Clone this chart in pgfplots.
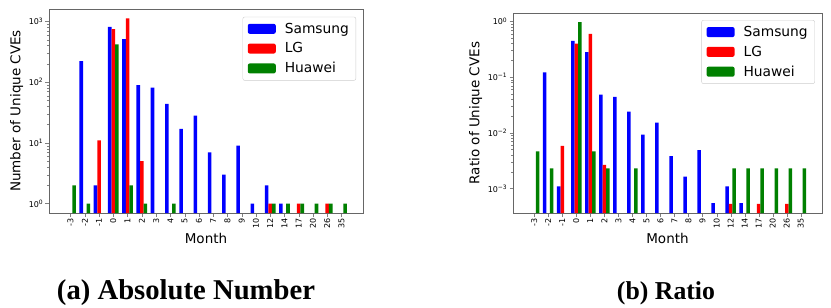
\documentclass[border=0pt]{standalone}
\usepackage{fontspec}
\setmainfont{DejaVu Sans}
\newfontfamily\capfont{Liberation Serif}
\usepackage{pgfplots}
\pgfplotsset{compat=1.18}
\definecolor{mplgreen}{rgb}{0,0.5,0}
\begin{document}
\begin{tikzpicture}
\useasboundingbox (0,0) rectangle (831pt,-308pt);
% ---------- (a) ----------
\begin{axis}[
  scale only axis,
  at={(49pt,-213pt)}, anchor=south west,
  width=314pt, height=204pt,
  ymode=log, log origin=infty,
  xmin=-1.51, xmax=20.51,
  ymin=0.70, ymax=1600,
  xtick={0,...,19},
  xticklabels={-3,-2,-1,0,1,2,3,4,5,6,7,8,9,10,12,14,17,20,26,35},
  xticklabel style={rotate=90, anchor=east, font=\fontsize{8}{9}\selectfont, inner sep=1.5pt},
  ytick={1,10,100,1000},
  yticklabels={10\textsuperscript{0},10\textsuperscript{1},10\textsuperscript{2},10\textsuperscript{3}},
  yticklabel style={font=\fontsize{8}{9}\selectfont, inner sep=2pt},
  tick align=outside, tick pos=left,
  major tick length=3.5pt, minor tick length=2pt,
  axis line style={black!60},
  label style={font=\fontsize{13.5}{15}\selectfont},
  xlabel={Month},
  ylabel={Number of Unique CVEs},
  legend style={at={(0.978,0.962)}, anchor=north east, draw=black!20, rounded corners=2pt,
    font=\fontsize{13.8}{16}\selectfont, row sep=4pt, column sep=7pt, inner xsep=5pt, inner ysep=4pt},
  legend cell align=left,
  bar width=0.25,
]
\addplot[ybar, bar shift=-0.25, fill=blue, draw=none, legend image code/.code={\fill[blue] (0pt,-5pt) rectangle (28pt,5pt);}] coordinates {
(1,222) (2,2) (3,816) (4,511) (5,89) (6,81) (7,44) (8,17) (9,28) (10,7) (11,3) (12,9) (13,1) (14,2) (15,1)};
\addplot[ybar, bar shift=0, fill=red, draw=none, legend image code/.code={\fill[red] (0pt,-5pt) rectangle (28pt,5pt);}] coordinates {
(2,11) (3,748) (4,1120) (5,5) (14,1) (16,1) (18,1)};
\addplot[ybar, bar shift=0.25, fill=mplgreen, draw=none, legend image code/.code={\fill[mplgreen] (0pt,-5pt) rectangle (28pt,5pt);}] coordinates {
(0,2) (1,1) (3,420) (4,2) (5,1) (7,1) (14,1) (15,1) (16,1) (17,1) (18,1) (19,1)};
\legend{Samsung,LG,Huawei}
\end{axis}
% ---------- (b) ----------
\begin{axis}[
  scale only axis,
  at={(513pt,-213pt)}, anchor=south west,
  width=309pt, height=200pt,
  ymode=log, log origin=infty,
  xmin=-1.51, xmax=20.51,
  ymin=3.64e-4, ymax=1.41,
  xtick={0,...,19},
  xticklabels={-3,-2,-1,0,1,2,3,4,5,6,7,8,9,10,12,14,17,20,26,35},
  xticklabel style={rotate=90, anchor=east, font=\fontsize{8}{9}\selectfont, inner sep=1.5pt},
  ytick={0.001,0.01,0.1,1},
  yticklabels={10\textsuperscript{−3},10\textsuperscript{−2},10\textsuperscript{−1},10\textsuperscript{0}},
  yticklabel style={font=\fontsize{8}{9}\selectfont, inner sep=2pt},
  tick align=outside, tick pos=left,
  major tick length=3.5pt, minor tick length=2pt,
  axis line style={black!60},
  label style={font=\fontsize{13.5}{15}\selectfont},
  xlabel={Month},
  ylabel={Ratio of Unique CVEs},
  legend style={at={(0.977,0.965)}, anchor=north east, draw=black!20, rounded corners=2pt,
    font=\fontsize{13.8}{16}\selectfont, row sep=4pt, column sep=7pt, inner xsep=5pt, inner ysep=4pt},
  legend cell align=left,
  bar width=0.25,
]
\addplot[ybar, bar shift=-0.25, fill=blue, draw=none, legend image code/.code={\fill[blue] (0pt,-5pt) rectangle (28pt,5pt);}] coordinates {
(1,0.1211) (2,0.001091) (3,0.4452) (4,0.2788) (5,0.04855) (6,0.04419) (7,0.0240) (8,0.009274) (9,0.01528) (10,0.003819) (11,0.001637) (12,0.00491) (13,0.000546) (14,0.001091) (15,0.000546)};
\addplot[ybar, bar shift=0, fill=red, draw=none, legend image code/.code={\fill[red] (0pt,-5pt) rectangle (28pt,5pt);}] coordinates {
(2,0.005829) (3,0.3964) (4,0.5935) (5,0.00265) (14,0.00053) (16,0.00053) (18,0.00053)};
\addplot[ybar, bar shift=0.25, fill=mplgreen, draw=none, legend image code/.code={\fill[mplgreen] (0pt,-5pt) rectangle (28pt,5pt);}] coordinates {
(0,0.004619) (1,0.002309) (3,0.9700) (4,0.004619) (5,0.002309) (7,0.002309) (14,0.002309) (15,0.002309) (16,0.002309) (17,0.002309) (18,0.002309) (19,0.002309)};
\legend{Samsung,LG,Huawei}
\end{axis}
% ---------- captions ----------
\node at (186pt,-293pt) {\resizebox{258pt}{!}{\capfont\bfseries (a) Absolute Number}};
\node at (666pt,-293pt) {\resizebox{98pt}{!}{\capfont\bfseries (b) Ratio}};
\end{tikzpicture}
\end{document}
